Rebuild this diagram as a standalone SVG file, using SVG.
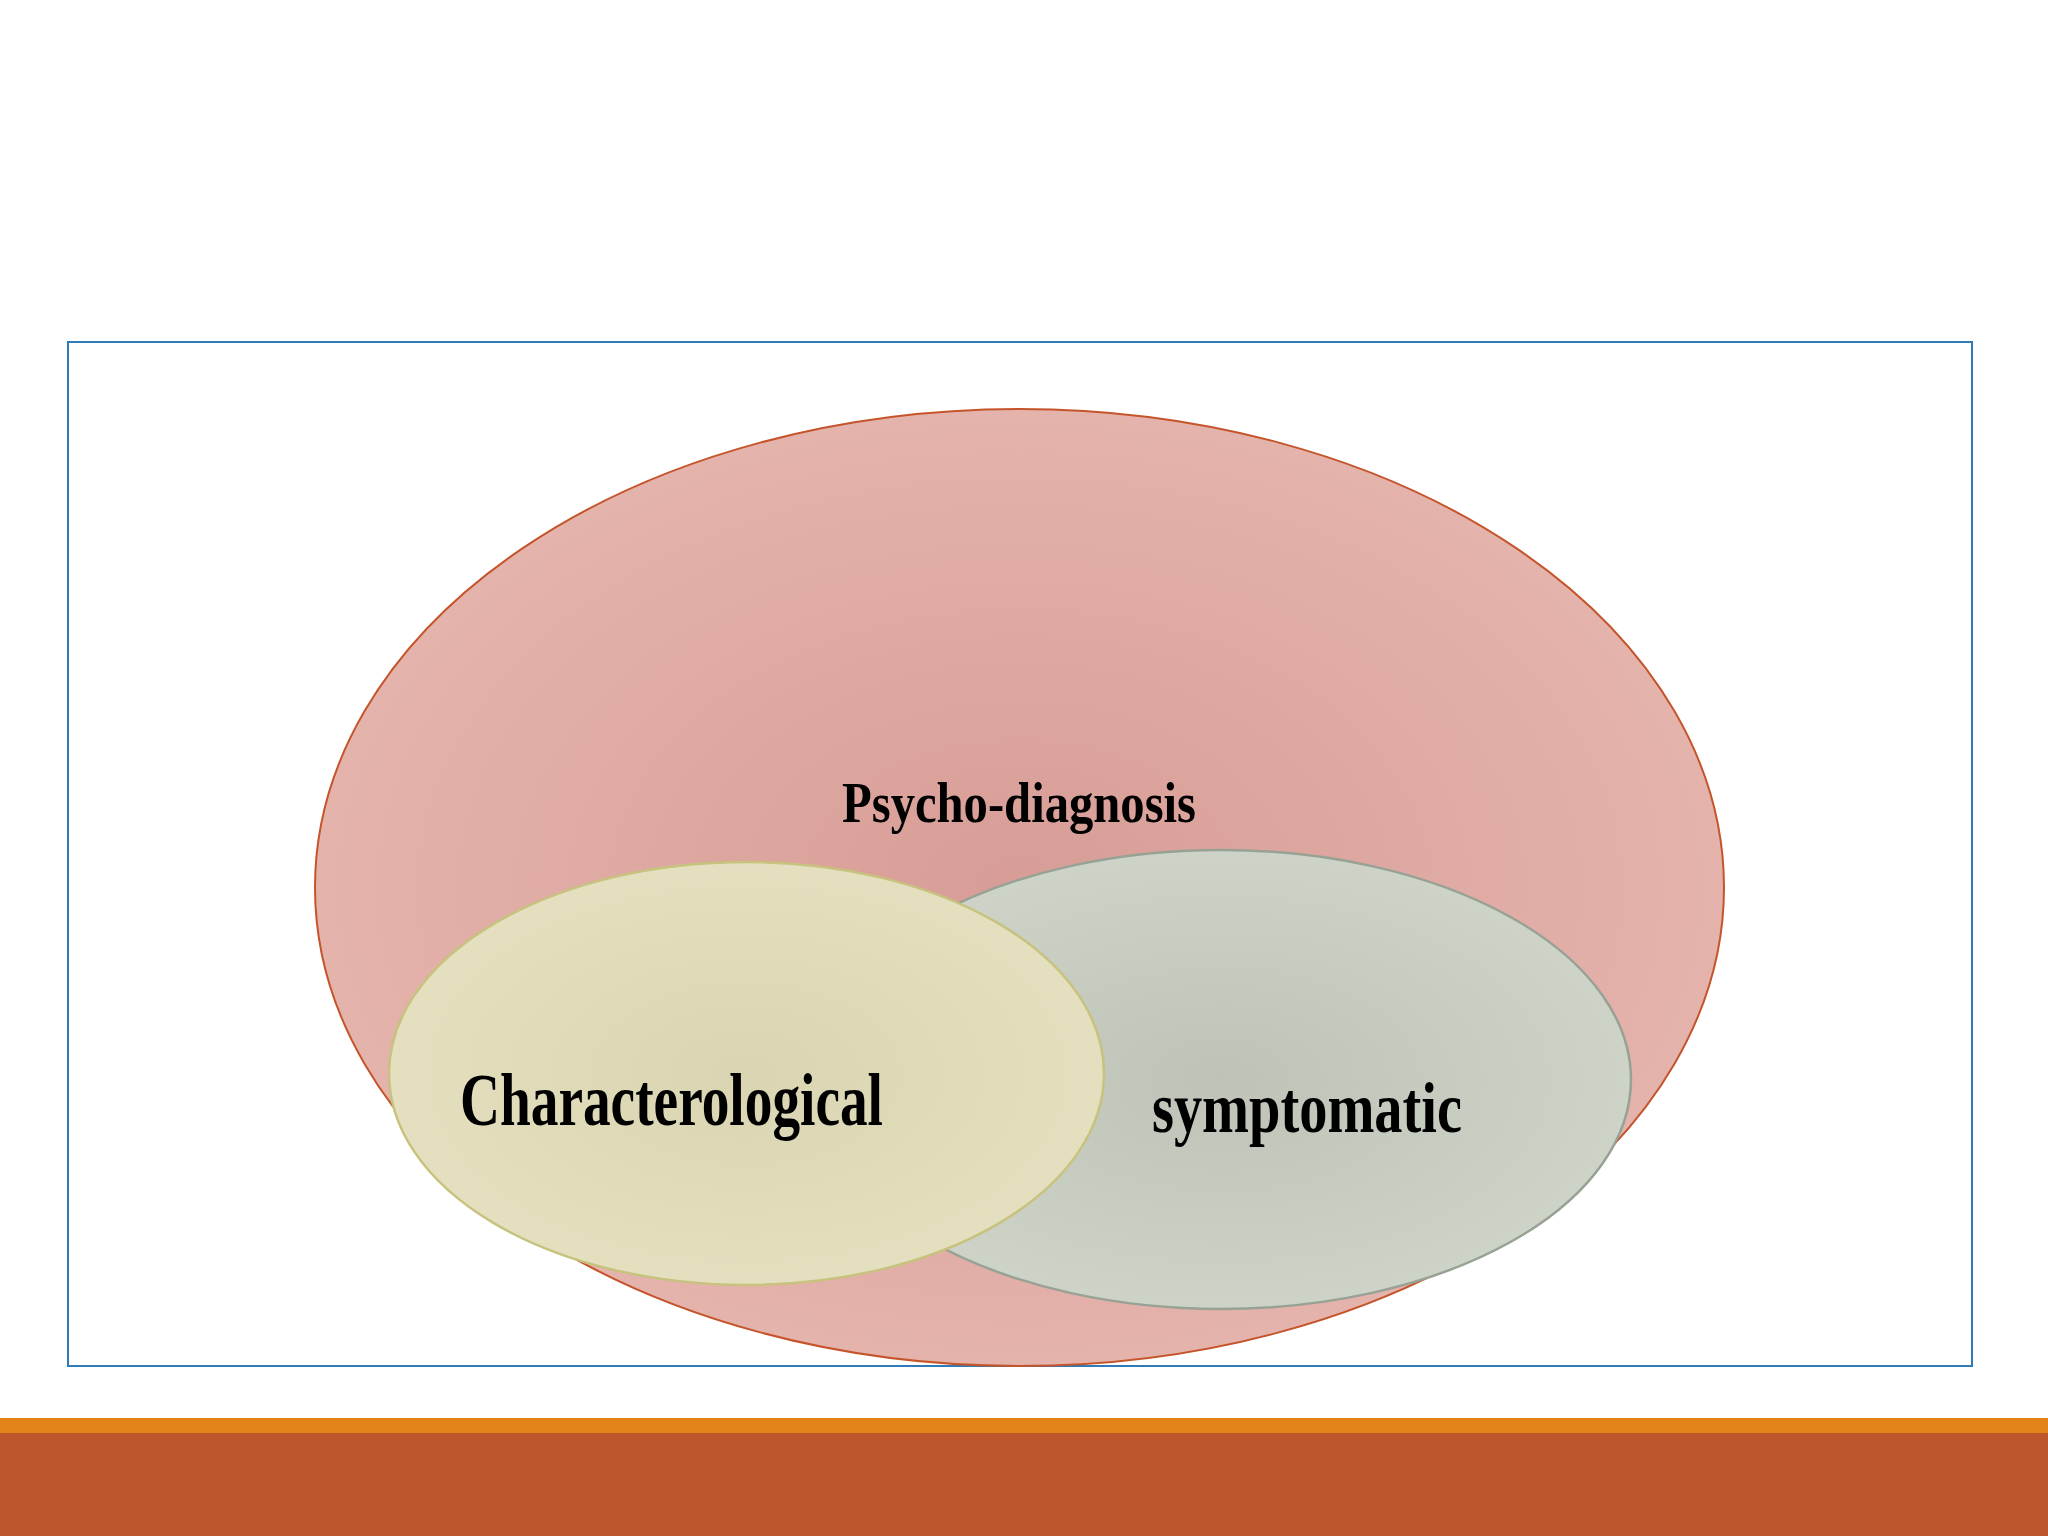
<svg xmlns="http://www.w3.org/2000/svg" width="2048" height="1536" viewBox="0 0 2048 1536">
<style>
.lbl{font-family:"Liberation Serif","DejaVu Serif",serif;font-weight:bold;fill:#000}
</style>
<defs>
<radialGradient id="gBig" cx="50%" cy="50%" r="50%">
<stop offset="0" stop-color="#D79D96"/>
<stop offset="1" stop-color="#E4B3AC"/>
</radialGradient>
<radialGradient id="gLeft" cx="50%" cy="50%" r="50%">
<stop offset="0" stop-color="#D9D4B1"/>
<stop offset="1" stop-color="#E4E0BF"/>
</radialGradient>
<radialGradient id="gRight" cx="50%" cy="50%" r="50%">
<stop offset="0" stop-color="#BFC3B7"/>
<stop offset="1" stop-color="#CDD3C7"/>
</radialGradient>
</defs>
<rect width="2048" height="1536" fill="#FFFFFF"/>
<g id="frame"><rect x="68" y="342" width="1904" height="1024" fill="none" stroke="#2E7BB8" stroke-width="2"/></g>
<g id="psycho-diagnosis">
<ellipse cx="1019.5" cy="887.5" rx="704.5" ry="478.5" fill="url(#gBig)" stroke="#C5542B" stroke-width="2"/>
<text class="lbl" x="1019" y="822" font-size="56" text-anchor="middle" textLength="354" lengthAdjust="spacingAndGlyphs">Psycho-diagnosis</text>
</g>
<g id="symptomatic">
<ellipse cx="1221" cy="1079.5" rx="410" ry="229.5" fill="url(#gRight)" stroke="#98A294" stroke-width="2.5"/>
<text class="lbl" x="1152" y="1132" font-size="72" textLength="310" lengthAdjust="spacingAndGlyphs">symptomatic</text>
</g>
<g id="characterological">
<ellipse cx="746.5" cy="1073.5" rx="357.5" ry="211.5" fill="url(#gLeft)" stroke="#C7C27E" stroke-width="2.5"/>
<text class="lbl" x="460" y="1125" font-size="74" textLength="423" lengthAdjust="spacingAndGlyphs">Characterological</text>
</g>
<g id="connectors"/>
<rect x="0" y="1418" width="2048" height="15" fill="#E2841A"/>
<rect x="0" y="1433" width="2048" height="103" fill="#BE562C"/>
</svg>
